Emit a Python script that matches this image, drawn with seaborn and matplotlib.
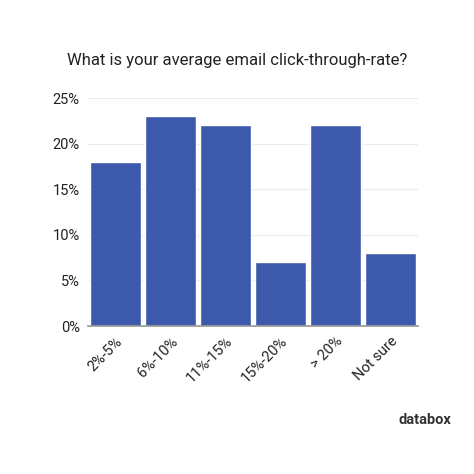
import matplotlib
matplotlib.use("Agg")
import matplotlib.pyplot as plt
import seaborn as sns
import pandas as pd

categories = ["2%-5%", "6%-10%", "11%-15%", "15%-20%", "> 20%", "Not sure"]
values = [18, 23, 22, 7, 22, 8]
yticks = [0, 5, 10, 15, 20, 25]
title = "What is your average email click-through-rate?"

sns.set_theme(style="white")
plt.rcParams['font.family'] = ['Roboto', 'DejaVu Sans']

fig = plt.figure(figsize=(4.74, 4.74), dpi=100)
ax = fig.add_axes([88/474, 1-326/474, 330/474, 228/474])
df = pd.DataFrame({"cat": categories, "val": values})
sns.barplot(data=df, x="cat", y="val", color="#3d59ab", saturation=1, width=0.92, ax=ax)
ax.set_ylim(0, 25)
ax.set_yticks(yticks)
ax.set_yticklabels([f"{t}%" for t in yticks], fontsize=10.5, color="#222222")
ax.yaxis.grid(True, color="#ececec", lw=0.8)
ax.set_axisbelow(True)
ax.set_xlabel(""); ax.set_ylabel("")
ax.set_xticks(range(len(categories)))
ax.set_xticklabels(categories, rotation=45, ha="right", rotation_mode="anchor", fontsize=10.5, color="#222222")
for s in ["top", "right", "left"]:
    ax.spines[s].set_visible(False)
ax.spines["bottom"].set_color("#999999")
ax.tick_params(axis="both", length=0, pad=6)
fig.text(0.5, 1-60/474, title, ha="center", va="center", fontsize=12, color="#222222")
fig.text(425/474, 1-420/474, "databox", ha="center", va="center", fontsize=10.5, color="#333333", fontweight="bold")
fig.savefig("out.png", dpi=100, facecolor="white")
